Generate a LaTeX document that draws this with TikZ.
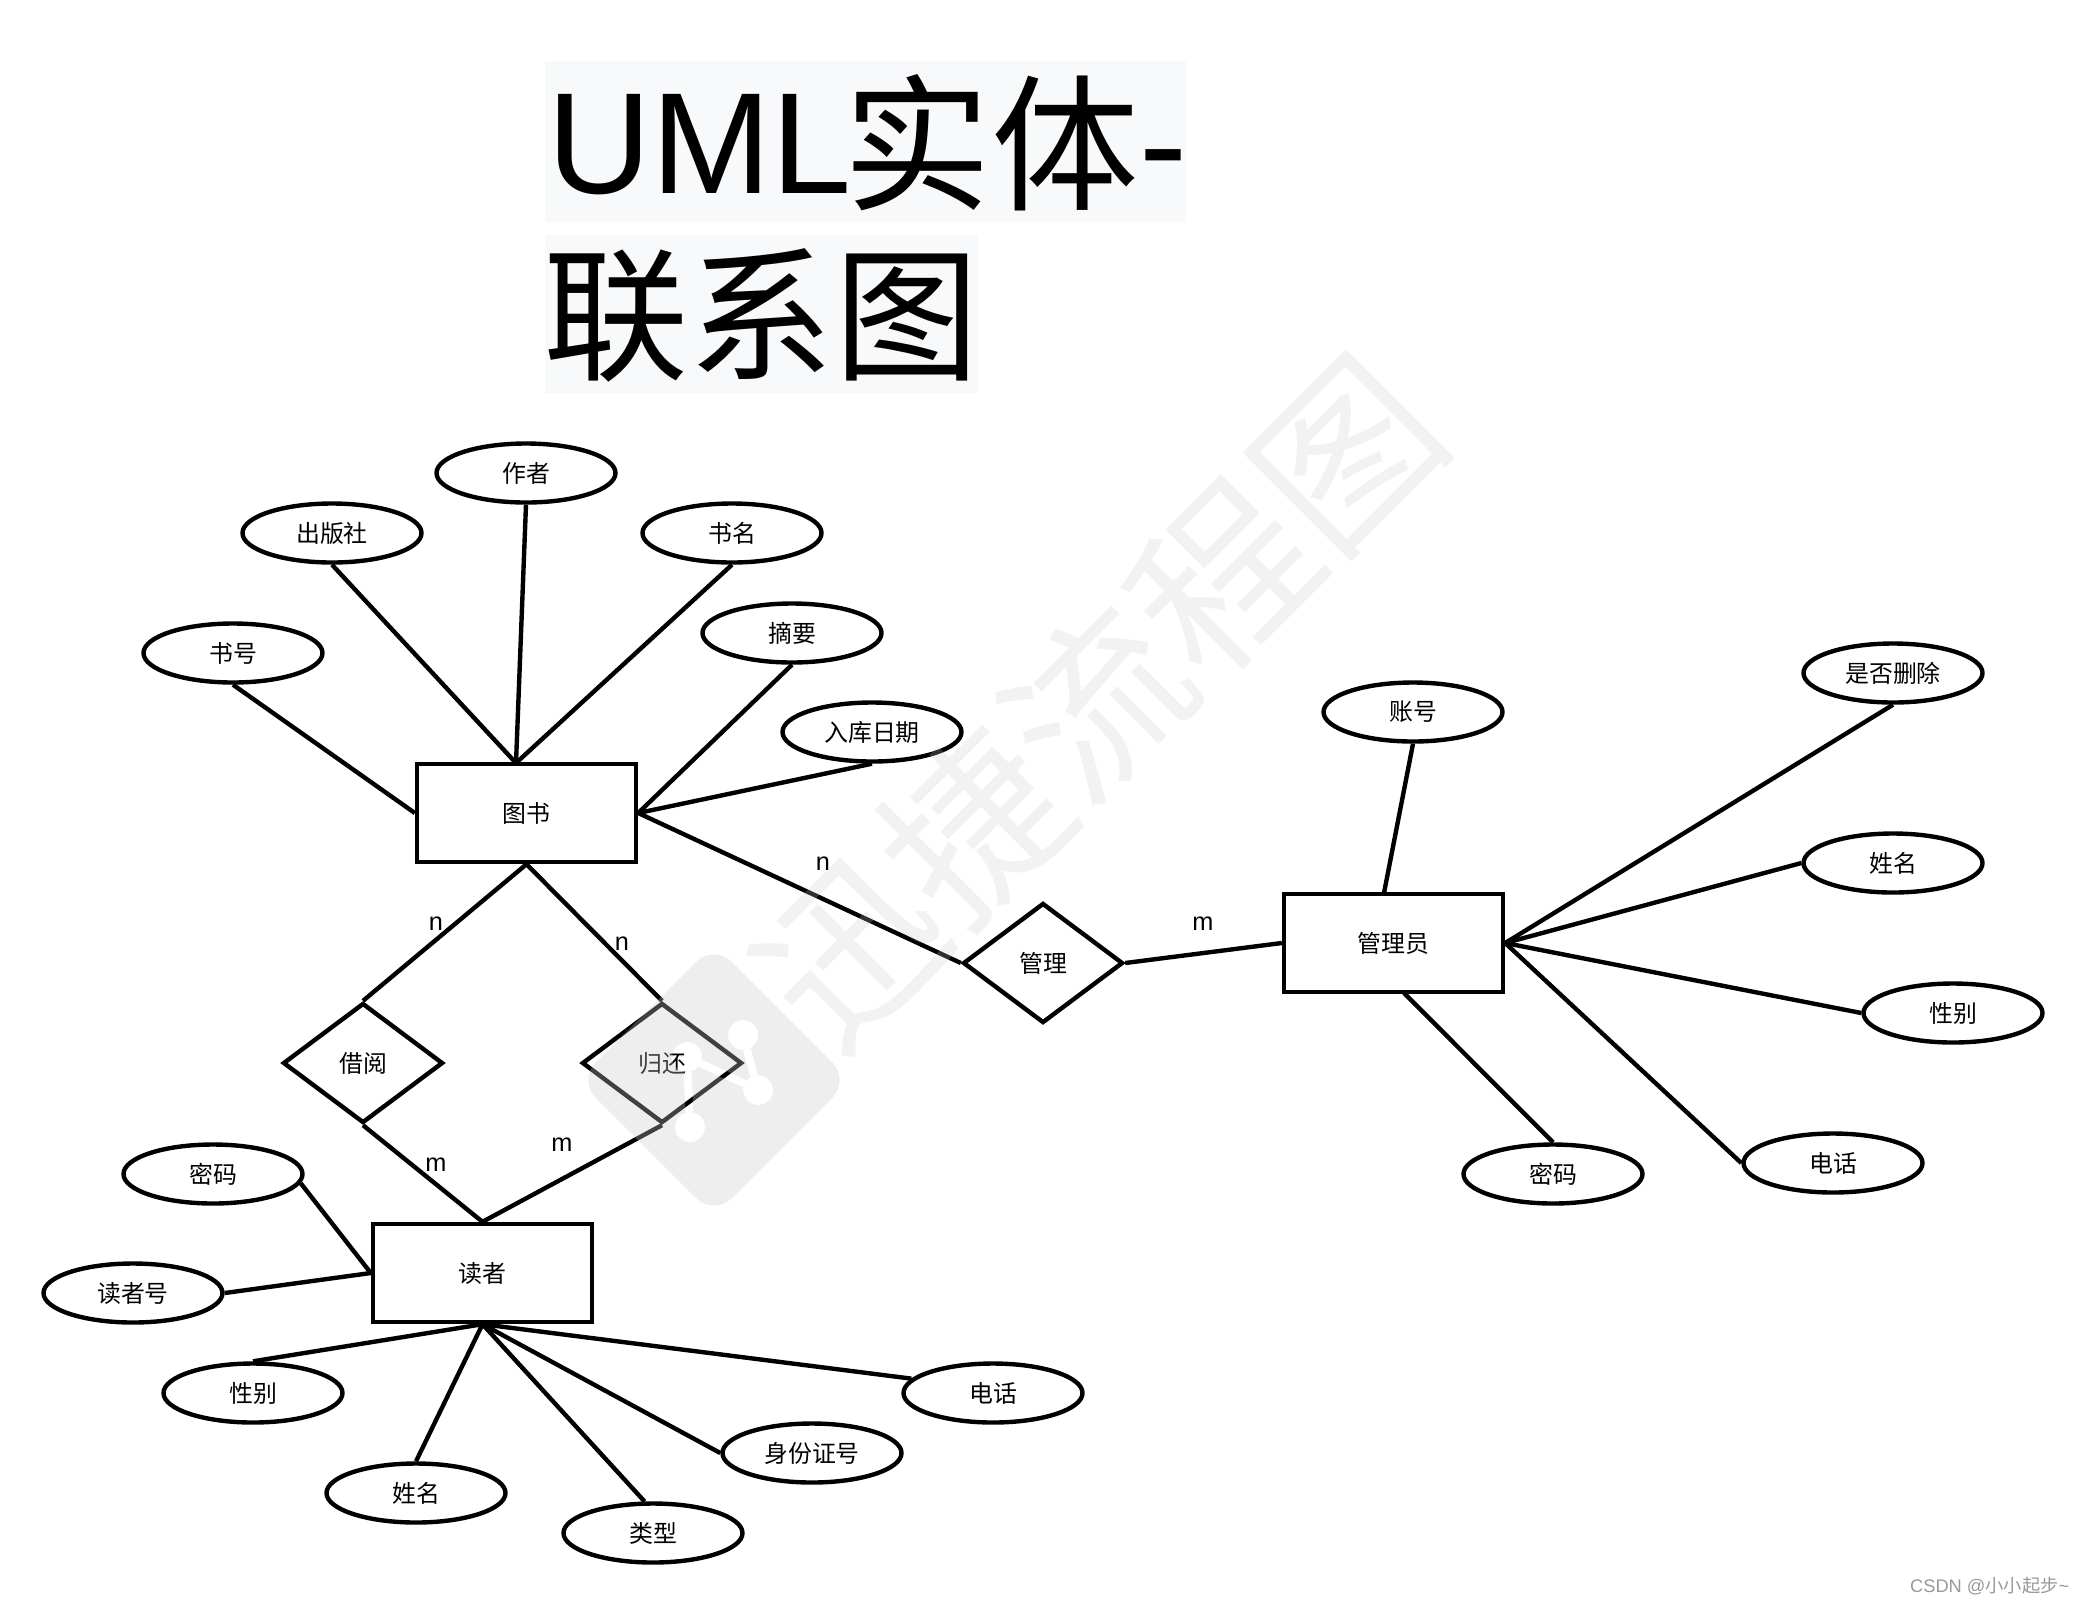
\documentclass[tikz,border=0pt]{standalone}
\usepackage{fontspec}
\setmainfont{Liberation Sans}
\newfontfamily\cjk{Noto Sans CJK SC}
\usetikzlibrary{shapes.geometric,calc}
\definecolor{titlebg}{RGB}{248,249,251}
\definecolor{wmgray}{RGB}{201,201,201}
\tikzset{
  base/.style={font=\fontsize{6.8}{8}\selectfont\cjk,draw,line width=1.25pt,inner sep=0pt},
  attr/.style={base,ellipse,minimum width=1.79cm,minimum height=0.59cm},
  entity/.style={base,rectangle,minimum width=2.19cm,minimum height=0.98cm},
  rel/.style={base,diamond,minimum width=1.6cm,minimum height=1.2cm},
  link/.style={line width=1.25pt},
  card/.style={font=\fontsize{7.2}{8}\selectfont,inner sep=0pt},
}
\begin{document}
\begin{tikzpicture}[y=-1cm]
\useasboundingbox (0,0) rectangle (20.84,16.04);

% title
\fill[titlebg] (5.45,0.61) rectangle (11.86,2.22);
\fill[titlebg] (5.45,2.35) rectangle (9.78,3.93);
\node[anchor=west,inner sep=0pt,font=\fontsize{41}{41}\selectfont] (T0) at (5.47,1.43) {\raisebox{.06cm}{UML}\kern-.08cm{\fontsize{42}{42}\selectfont\cjk 实体}\raisebox{.06cm}{-}};
\node[anchor=west,inner sep=0pt,font=\fontsize{41.3}{41.3}\selectfont\cjk] (T1) at (5.43,3.15) {联系图};

% book
\node[entity] (Book) at (5.265,8.13) {图书};
\node[attr] (BookNo) at (2.33,6.53) {书号};
\node[attr] (Press) at (3.32,5.33) {出版社};
\node[attr] (Author) at (5.26,4.73) {作者};
\node[attr] (BookName) at (7.32,5.33) {书名};
\node[attr] (Abstract) at (7.92,6.33) {摘要};
\node[attr] (InDate) at (8.72,7.32) {入库日期};
\coordinate (BookTop) at (5.16,7.63);

% reader
\node[entity] (Reader) at (4.825,12.73) {读者};
\node[attr] (RdPwd) at (2.13,11.74) {密码};
\node[attr] (RdNo) at (1.33,12.93) {读者号};
\node[attr] (RdSex) at (2.53,13.93) {性别};
\node[attr] (RdName) at (4.16,14.93) {姓名};
\node[attr] (RdType) at (6.53,15.33) {类型};
\node[attr] (RdId) at (8.12,14.53) {身份证号};
\node[attr] (RdTel) at (9.93,13.93) {电话};

% admin
\node[entity] (Admin) at (13.935,9.43) {管理员};
\node[attr] (AdAcc) at (14.13,7.12) {账号};
\node[attr] (AdDel) at (18.93,6.73) {是否删除};
\node[attr] (AdName) at (18.93,8.63) {姓名};
\node[attr] (AdSex) at (19.53,10.13) {性别};
\node[attr] (AdTel) at (18.33,11.63) {电话};
\node[attr] (AdPwd) at (15.53,11.74) {密码};
\coordinate (AdminTop) at (13.84,8.93);
\coordinate (AdminBot) at (14.04,9.93);

% relations
\node[rel] (Borrow) at (3.63,10.63) {借阅};
\node[rel] (Return) at (6.62,10.63) {归还};
\node[rel] (Manage) at (10.43,9.63) {管理};

% links
\draw[link] (BookNo.south) -- (Book.west);
\draw[link] (Press.south) -- (BookTop);
\draw[link] (Author.south) -- (BookTop);
\draw[link] (BookName.south) -- (BookTop);
\draw[link] (Abstract.south) -- (Book.east);
\draw[link] (InDate.south) -- (Book.east);
\draw[link] (Book.east) -- (Manage.west);
\draw[link] (Manage.east) -- (Admin.west);
\draw[link] (Book.south) -- (Borrow.north);
\draw[link] (Book.south) -- (Return.north);
\draw[link] (Borrow.south) -- (Reader.north);
\draw[link] (Return.south) -- (Reader.north);
\draw[link] (RdPwd.-6) -- (Reader.west);
\draw[link] (RdNo.east) -- (Reader.west);
\draw[link] (RdSex.north) -- (Reader.south);
\draw[link] (RdName.north) -- (Reader.south);
\draw[link] (RdType.105) -- (Reader.south);
\draw[link] (RdId.west) -- (Reader.south);
\draw[link] (RdTel.170) -- (Reader.south);
\draw[link] (AdAcc.south) -- (AdminTop);
\draw[link] (AdminBot) -- (AdPwd.north);
\draw[link] (AdDel.south) -- (Admin.east);
\draw[link] (AdName.west) -- (Admin.east);
\draw[link] (AdSex.west) -- (Admin.east);
\draw[link] (AdTel.west) -- (Admin.east);

% cardinalities
\node[card] (C0) at (8.23,8.64) {n};
\node[card] (C1) at (4.36,9.24) {n};
\node[card] (C2) at (6.22,9.44) {n};
\node[card] (C3) at (12.03,9.24) {m};
\node[card] (C4) at (4.36,11.65) {m};
\node[card] (C5) at (5.62,11.45) {m};

% watermark
\fill[wmgray,opacity=0.32,even odd rule,rounded corners=0.25cm]
  (7.14,9.44) -- (8.50,10.80) -- (7.14,12.16) -- (5.78,10.80) -- cycle
  [sharp corners]
  (7.43,10.35) circle [radius=0.15] (7.58,10.90) circle [radius=0.15]
  (6.87,10.57) circle [radius=0.15] (6.90,11.27) circle [radius=0.15]
  (7.508,10.484) -- (7.58,10.744) -- (7.502,10.766) -- (7.43,10.506) -- cycle
  (7.461,10.801) -- (7.023,10.597) -- (6.989,10.669) -- (7.427,10.873) -- cycle
  (6.916,10.718) -- (6.934,11.118) -- (6.854,11.122) -- (6.836,10.722) -- cycle;
\node[text=wmgray,opacity=0.24,rotate=45,font=\fontsize{50}{50}\selectfont\cjk,inner sep=0pt] (Mark) at (10.98,7.02) {迅捷流程图};
\node[anchor=east,text=gray!80,font=\fontsize{5.2}{6}\selectfont,inner sep=0pt] (Credit) at (20.7,15.86) {CSDN @{\cjk 小小起步}\textasciitilde};
\end{tikzpicture}
\end{document}
